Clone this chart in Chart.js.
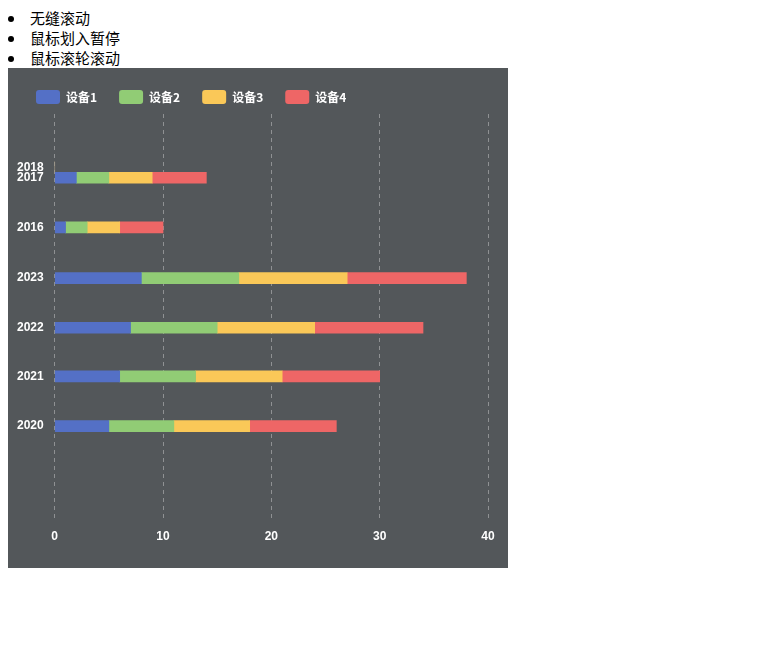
<!DOCTYPE html>
<html><head><meta charset="utf-8">
<script src="https://cdn.jsdelivr.net/npm/chart.js@4"></script>
<style>
body{margin:8px;font-family:"Microsoft YaHei","Noto Sans CJK SC",sans-serif;font-size:15px}
ul{margin:0;padding-left:0;list-style-position:inside}
li{line-height:20px}
#box{width:500px;height:500px;background:#53575a;position:relative}
</style></head><body>
<ul><li>无缝滚动</li><li>鼠标划入暂停</li><li>鼠标滚轮滚动</li></ul>
<div id="box"><canvas id="c"></canvas></div>
<script>
const years = ["2018", "2017", "2016", "2023", "2022", "2021", "2020"];
const rowPos = [0.49, 0.7, 1.7, 2.72, 3.72, 4.7, 5.7];
const seriesNames = ["设备1", "设备2", "设备3", "设备4"];
const colors = ["#5470c6", "#91cc75", "#fac858", "#ee6666"];
const dev1 = [0, 2, 1, 8, 7, 6, 5];
const dev2 = [0, 3, 2, 9, 8, 7, 6];
const dev3 = [0, 4, 3, 10, 9, 8, 7];
const dev4 = [0, 5, 4, 11, 10, 9, 8];
const allSeries = [dev1, dev2, dev3, dev4];

const ctx = document.getElementById("c");
new Chart(ctx, {
	type: "bar",
	data: {
		datasets: allSeries.map((vals, i) => ({
			label: seriesNames[i],
			data: vals.map((v, j) => ({ x: v, y: rowPos[j] })),
			backgroundColor: colors[i],
			barThickness: 11,
			borderWidth: 0,
		})),
	},
	options: {
		indexAxis: "y",
		responsive: true,
		maintainAspectRatio: false,
		animation: false,
		layout: { padding: { left: 6, right: 20, top: 0, bottom: 14 } },
		plugins: {
			legend: {
				align: "start",
				labels: {
					color: "#fff",
					boxWidth: 24,
					boxHeight: 14,
					useBorderRadius: true,
					borderRadius: 3,
					padding: 22,
					font: { size: 12, weight: "bold", family: "Microsoft YaHei, Noto Sans CJK SC" },
				},
			},
			tooltip: { enabled: false },
		},
		scales: {
			x: {
				type: "linear",
				stacked: true,
				min: 0,
				max: 40,
				ticks: { stepSize: 10, color: "#fff", font: { size: 12, weight: "bold" }, padding: 10 },
				grid: { color: "rgba(255,255,255,0.35)", drawTicks: false },
				border: { display: false, dash: [4, 4] },
			},
			y: {
				type: "linear",
				stacked: true,
				reverse: true,
				min: 0,
				max: 7,
				afterBuildTicks: (axis) => {
					axis.ticks = rowPos.map((p) => ({ value: p }));
				},
				ticks: {
					color: "#fff",
					font: { size: 12, weight: "bold" },
					autoSkip: false,
					callback: (v, i) => years[i],
				},
				grid: { display: false },
				border: { display: false },
			},
		},
	},
});
</script>
</body></html>
